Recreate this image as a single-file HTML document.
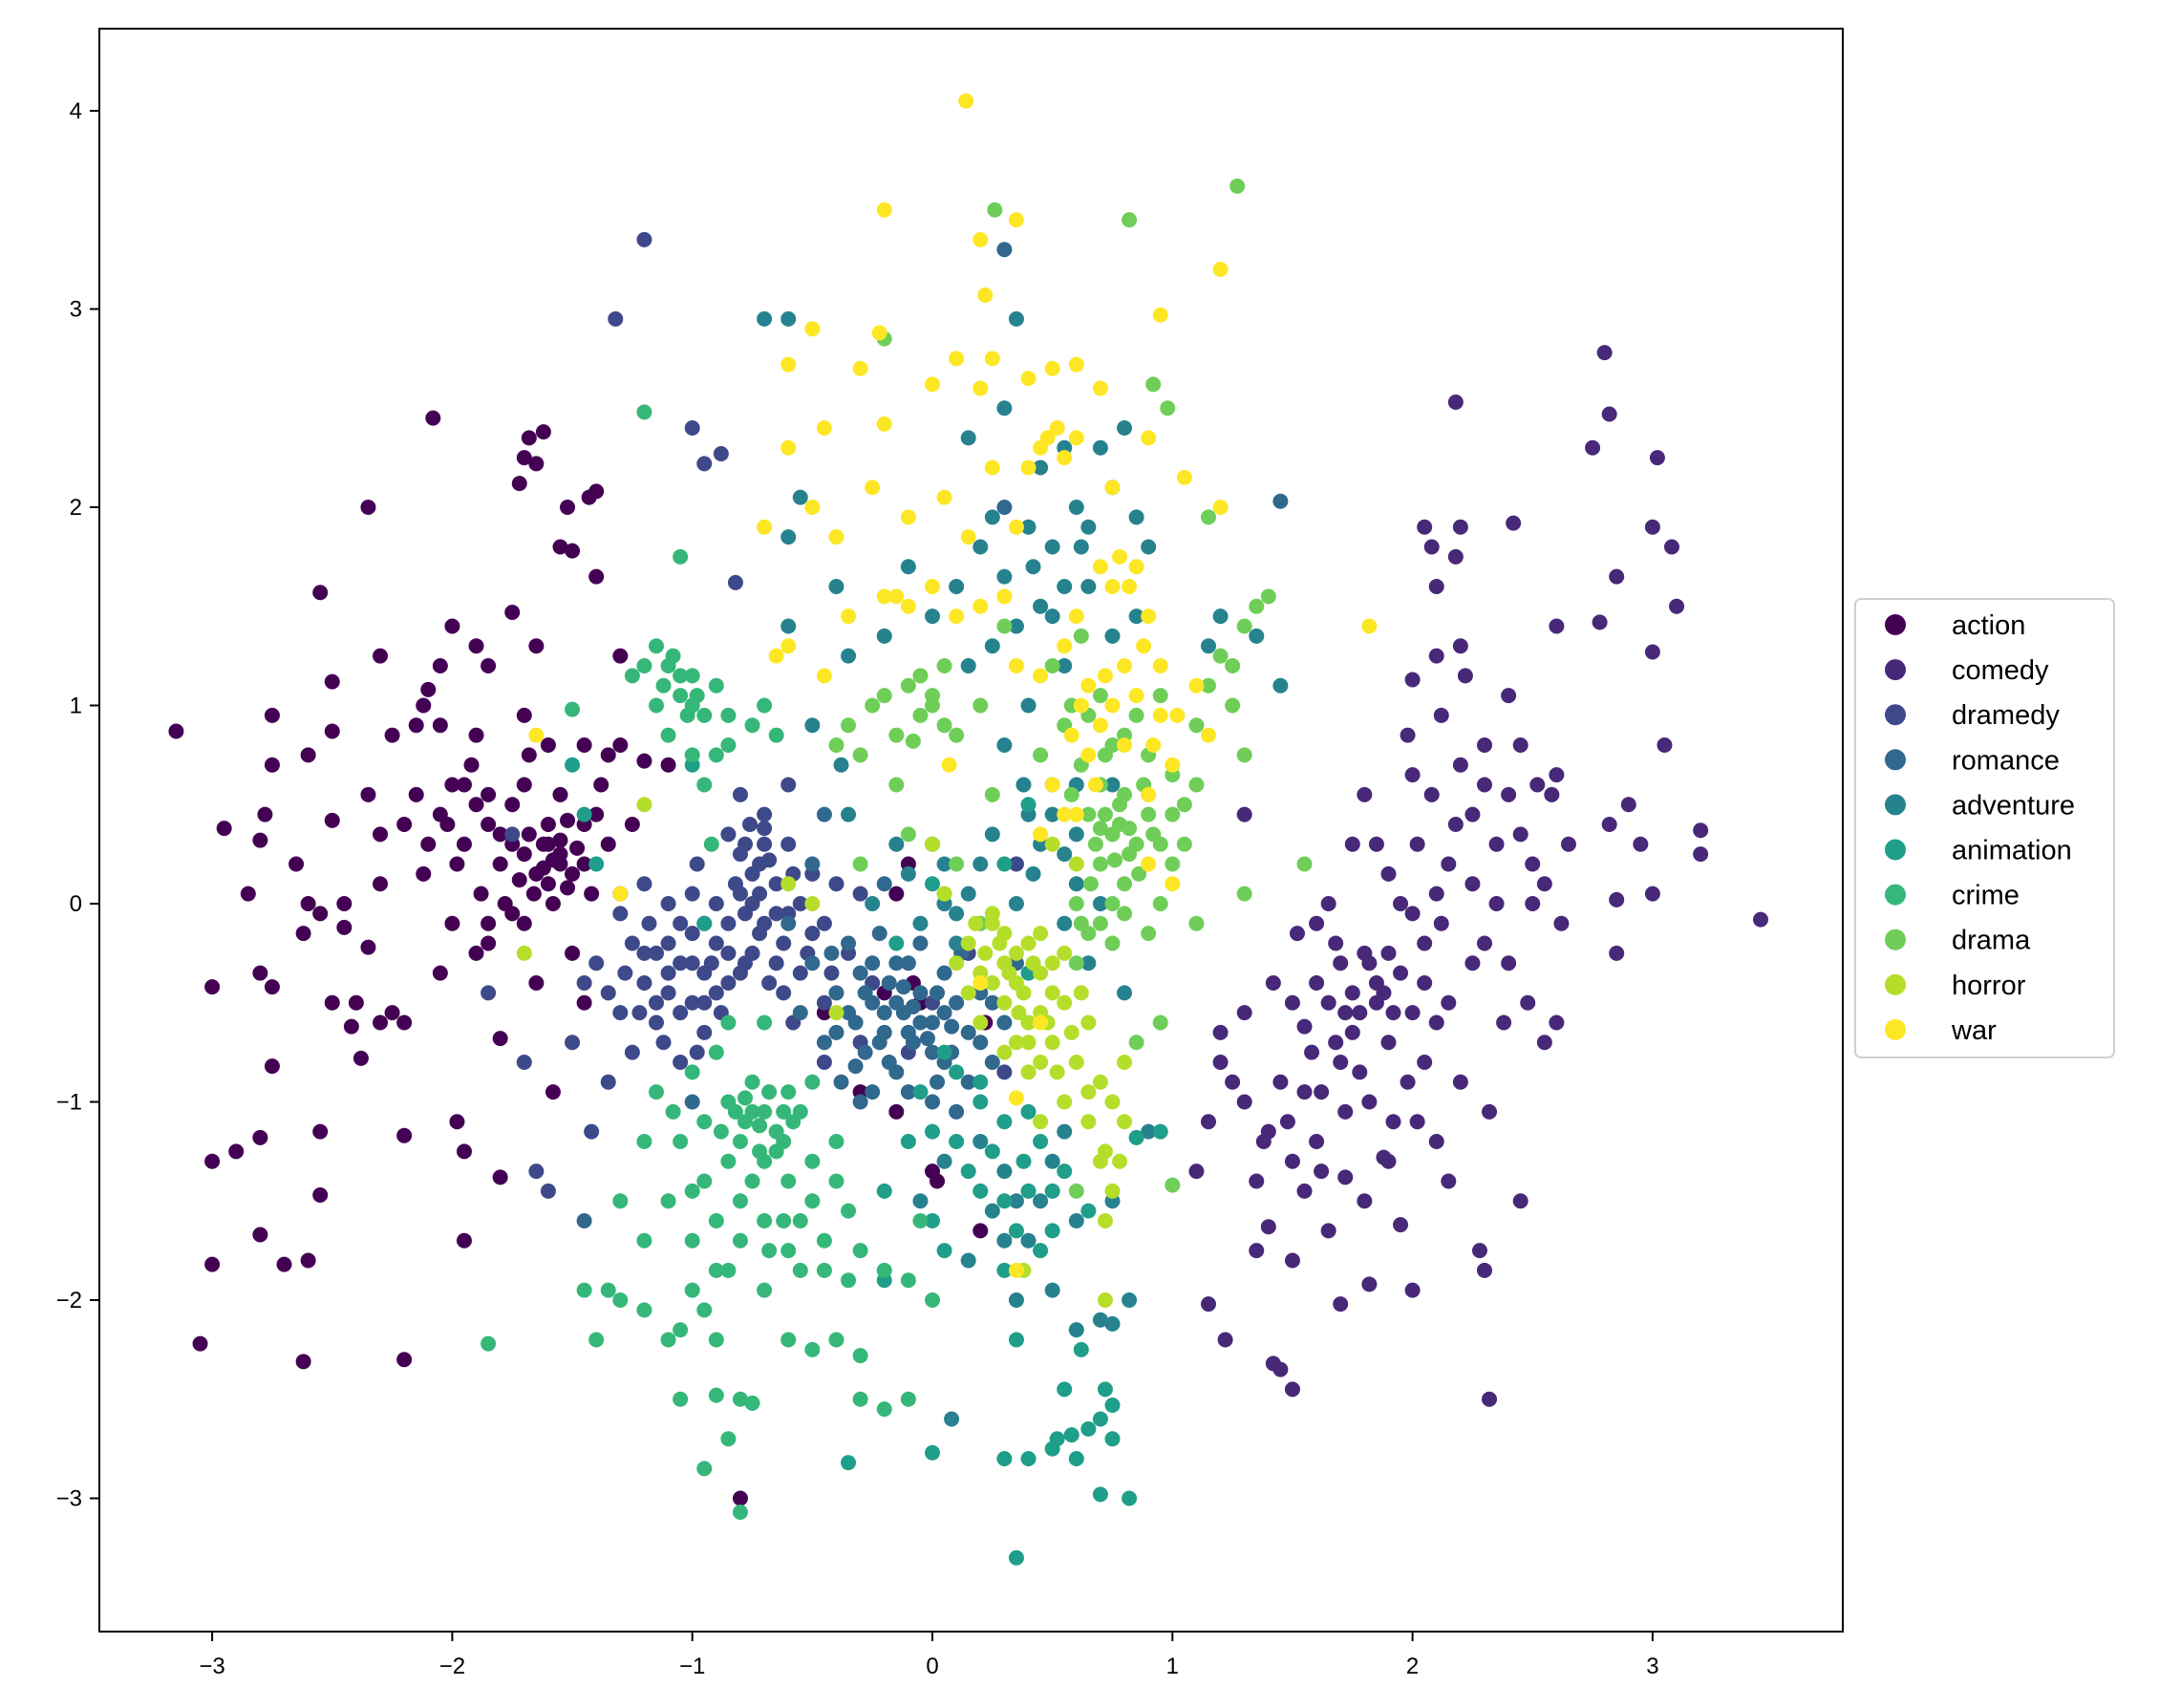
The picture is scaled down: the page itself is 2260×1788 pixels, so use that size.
<!DOCTYPE html>
<html><head><meta charset="utf-8"><style>
html,body{margin:0;padding:0;background:#fff;}
svg{display:block;font-family:"Liberation Sans","DejaVu Sans",sans-serif;}
</style></head><body>
<svg id="chart" width="2260" height="1788" viewBox="0 0 2260 1788" xmlns="http://www.w3.org/2000/svg">
<rect width="2260" height="1788" fill="#fff"/>
<g id="points"></g>
<rect x="104" y="30" width="1825" height="1678" fill="none" stroke="#000" stroke-width="2"/>
<g id="xticks"></g>
<g id="yticks"></g>
<g id="legend"></g>
</svg>
<script>
const genres=["action","comedy","dramedy","romance","adventure","animation","crime","drama","horror","war"];
const colors=["#440154","#482878","#3e4989","#31688e","#26828e","#1f9e89","#35b779","#6ece58","#b5de2b","#fde725"];
const xTicks=[-3,-2,-1,0,1,2,3];
const yTicks=[-3,-2,-1,0,1,2,3,4];
const actionPts=[[-3.15,0.87],[-3.0,-0.42],[-2.95,0.38],[-2.8,-0.35],[-3.05,-2.22],[-3.0,-1.82],[-3.0,-1.3],[-2.9,-1.25],[-2.8,-1.18],[-2.8,-1.67],[-2.7,-1.82],[-2.62,-2.31],[-2.6,-1.8],[-2.55,-1.47],[-2.55,-1.15],[-2.75,-0.82],[-2.75,-0.42],[-2.85,0.05],[-2.8,0.32],[-2.78,0.45],[-2.75,0.7],[-2.75,0.95],[-2.65,0.2],[-2.6,0.75],[-2.55,1.57],[-2.5,1.12],[-2.5,0.87],[-2.5,0.42],[-2.45,0.0],[-2.45,-0.12],[-2.5,-0.5],[-2.42,-0.62],[-2.38,-0.78],[-2.35,-0.22],[-2.35,0.55],[-2.35,2.0],[-2.3,1.25],[-2.3,0.35],[-2.25,-0.55],[-2.2,-0.6],[-2.2,0.4],[-2.2,-1.17],[-2.2,-2.3],[-2.15,0.9],[-2.12,0.15],[-2.1,1.08],[-2.08,2.45],[-2.05,0.45],[-2.0,-0.1],[-2.0,0.6],[-2.0,1.4],[-1.98,-1.1],[-1.95,0.3],[-1.95,-1.7],[-1.95,-1.25],[-1.9,0.85],[-1.9,-0.25],[-1.88,0.05],[-1.85,1.2],[-1.85,0.55],[-1.8,0.2],[-1.8,-0.68],[-1.75,0.5],[-1.75,1.47],[-1.72,2.12],[-1.7,2.25],[-1.68,2.35],[-1.65,2.22],[-1.62,2.38],[-1.65,1.3],[-1.7,-0.1],[-1.68,0.75],[-1.65,-0.4],[-1.6,0.3],[-1.58,0.0],[-1.55,0.25],[-1.55,0.2],[-1.5,0.15],[-1.52,0.42],[-1.5,1.78],[-1.55,1.8],[-1.52,2.0],[-1.45,0.8],[-1.45,-0.5],[-1.43,2.05],[-1.4,2.08],[-1.4,1.65],[-1.38,0.6],[-1.35,0.3],[-1.3,1.25],[-1.3,0.05],[-1.58,-0.95],[-1.8,-1.38],[-1.75,0.3],[-1.7,0.25],[-1.62,0.3],[-1.6,0.1],[-1.45,0.4],[-1.5,-0.25],[-2.05,-0.35],[-2.25,0.85],[-0.8,-3.0],[-0.2,-0.45],[-0.08,-0.4],[-0.05,-0.5],[-0.3,-0.95],[-0.15,-1.05],[0.0,-1.35],[0.02,-1.4],[0.2,-1.65],[0.22,-0.6],[-0.1,0.2],[-0.15,0.05],[-0.45,-0.55],[-1.2,0.72],[-1.1,0.7],[-1.85,0.4],[-1.78,0.0],[-1.92,0.7],[-1.65,0.15],[-2.1,0.3],
[-1.58,0.22],[-1.62,0.18],[-1.55,0.32],[-1.48,0.28],[-1.68,0.35],[-1.72,0.12],[-1.6,0.4],[-1.52,0.08],[-1.66,0.05],[-1.45,0.2],[-1.42,0.05],[-1.4,0.45],[-1.8,0.35],[-1.9,0.5],[-1.95,0.6],[-2.02,0.4],[-1.98,0.2],[-2.15,0.55],[-2.3,0.1],[-2.4,-0.5],[-2.3,-0.6],[-1.85,-0.1],[-1.75,-0.05],[-1.85,-0.2],[-1.7,0.6],[-1.55,0.55],[-1.35,0.75],[-1.3,0.8],[-1.25,0.4],[-1.9,1.3],[-2.05,1.2],[-1.7,0.95],[-1.6,0.8],[-2.6,0.0],[-2.62,-0.15],[-2.55,-0.05],[-2.05,0.9],[-2.12,1.0]];
const comedyPts=[[1.15,-1.1],[1.1,-1.35],[1.15,-2.02],[1.22,-2.2],[1.2,-0.8],[1.25,-0.9],[1.2,-0.65],[1.3,-1.0],[1.3,-0.55],[1.35,-1.4],[1.35,-1.75],[1.38,-1.2],[1.4,-1.63],[1.42,-0.4],[1.42,-2.32],[1.45,-2.35],[1.45,-0.9],[1.48,-1.1],[1.5,-1.8],[1.5,-0.5],[1.5,-2.45],[1.52,-0.15],[1.55,-1.45],[1.55,-0.62],[1.6,-0.4],[1.6,-1.2],[1.62,-0.95],[1.65,0.0],[1.65,-1.65],[1.68,-0.7],[1.7,-0.3],[1.7,-2.02],[1.72,-1.38],[1.72,-0.55],[1.75,-0.65],[1.75,0.3],[1.78,-0.85],[1.8,-0.25],[1.8,0.55],[1.82,-1.0],[1.82,-1.92],[1.85,-0.4],[1.85,-0.5],[1.88,-1.28],[1.9,0.15],[1.9,-0.7],[1.92,-1.1],[1.95,-0.35],[1.95,-1.62],[1.98,0.85],[2.0,-0.55],[2.0,-1.95],[2.0,1.13],[2.02,0.3],[2.05,-0.8],[2.05,-0.4],[2.08,0.55],[2.08,1.8],[2.1,-1.2],[2.1,1.25],[2.12,-0.1],[2.12,0.95],[2.15,-0.5],[2.15,-1.4],[2.18,0.4],[2.18,1.75],[2.18,2.53],[2.2,-0.9],[2.2,0.7],[2.2,1.9],[2.22,1.15],[2.25,-0.3],[2.25,0.1],[2.28,-1.75],[2.3,-1.85],[2.3,0.8],[2.32,-2.5],[2.32,-1.05],[2.35,0.3],[2.38,-0.6],[2.4,0.55],[2.4,1.05],[2.42,1.92],[2.45,-1.5],[2.48,-0.5],[2.5,0.0],[2.5,0.2],[2.52,0.6],[2.55,-0.7],[2.58,0.55],[2.6,1.4],[2.62,-0.1],[2.65,0.3],[2.75,2.3],[2.78,1.42],[2.8,2.78],[2.82,2.47],[2.85,1.65],[2.82,0.4],[2.85,0.02],[2.85,-0.25],[2.9,0.5],[3.0,1.27],[3.0,0.05],[3.02,2.25],[3.05,0.8],[3.08,1.8],[3.1,1.5],[3.0,1.9],[3.2,0.37],[3.2,0.25],[3.45,-0.08],[2.95,0.3],[1.3,0.45],[2.0,-0.05],[1.6,-0.1],[1.9,-0.25],[1.75,-0.45],[2.1,-0.6],[1.95,0.0],[2.3,-0.2],[1.68,-0.2],[2.45,0.8],
[1.82,-0.3],[1.88,-0.45],[1.78,-0.55],[1.92,-0.55],[1.7,-0.8],[1.65,-0.5],[1.58,-0.75],[1.72,-1.05],[1.62,-1.35],[1.8,-1.5],[1.9,-1.3],[2.02,-1.1],[1.98,-0.9],[2.05,-0.2],[2.15,0.2],[2.25,0.45],[2.3,0.6],[2.35,0.0],[2.4,-0.3],[2.55,0.1],[2.6,0.65],[2.1,0.05],[1.85,0.3],[2.0,0.65],[2.2,1.3],[2.1,1.6],[2.05,1.9],[1.5,-1.3],[1.4,-1.15],[1.55,-0.95],[2.45,0.35],[2.6,-0.6]];
const dramedyPts=[[-1.5,-0.7],[-1.45,-0.4],[-1.42,-1.15],[-1.4,-0.3],[-1.35,-0.9],[-1.3,-0.05],[-1.3,-0.55],[-1.25,-0.2],[-1.25,-0.75],[-1.2,-0.4],[-1.2,0.1],[-1.15,-0.6],[-1.15,-0.25],[-1.1,-0.45],[-1.1,0.0],[-1.05,-0.8],[-1.05,-0.3],[-1.0,-0.15],[-1.0,-0.5],[-0.98,0.2],[-0.95,-0.65],[-0.95,-0.35],[-0.9,0.0],[-0.9,-0.2],[-0.88,-0.55],[-0.85,0.35],[-0.85,-0.1],[-0.82,0.1],[-0.8,-0.35],[-0.78,0.3],[-0.75,0.0],[-0.75,-0.25],[-0.72,0.2],[-0.7,-0.1],[-0.7,0.45],[-0.68,-0.4],[-0.65,0.1],[-0.62,-0.2],[-0.6,0.3],[-0.58,-0.6],[-0.55,0.0],[-0.55,-0.35],[-0.5,0.15],[-0.5,-0.15],[-0.45,-0.5],[-0.4,0.1],[-0.35,-0.25],[-0.3,0.05],[-0.25,-0.4],[-0.6,0.6],[-0.8,0.55],[-1.0,2.4],[-0.88,2.27],[-0.95,2.22],[-0.82,1.62],[-1.32,2.95],[-1.2,3.35],[-1.65,-1.35],[-1.6,-1.45],[-1.7,-0.8],[-1.75,0.35],[-1.85,-0.45],[-0.9,-0.45],[-0.78,-0.3],[-0.72,-0.15],[-1.1,-0.2],[-0.3,-0.7],[-0.45,-0.8],[0.0,-0.5],[-0.1,-0.75],[0.15,-0.25],[0.3,-0.85],[0.35,0.2],[-0.8,0.05],[-0.7,0.3],[-1.0,-0.3],[-0.65,-0.05],[-1.18,-0.1],
[-0.75,0.15],[-0.78,-0.05],[-0.72,0.05],[-0.68,0.22],[-0.8,0.25],[-0.85,-0.25],[-0.92,-0.3],[-0.95,-0.1],[-1.05,-0.1],[-1.1,-0.35],[-1.2,-0.25],[-1.28,-0.35],[-1.35,-0.45],[-1.15,-0.5],[-1.05,-0.55],[-0.95,-0.5],[-0.85,-0.4],[-0.65,-0.3],[-0.6,-0.05],[-0.58,0.15],[-0.52,-0.25],[-0.45,-0.1],[-0.42,-0.35],[-0.62,-0.45],[-0.7,0.38],[-0.76,0.4],[-1.0,0.05],[-1.12,-0.7],[-1.22,-0.55],[-0.98,-0.75]];
const romancePts=[[-0.5,-0.3],[-0.45,-0.7],[-0.4,-0.45],[-0.38,-0.9],[-0.35,-0.2],[-0.32,-0.6],[-0.3,-0.35],[-0.28,-0.75],[-0.25,-0.5],[-0.22,-0.15],[-0.2,-0.65],[-0.18,-0.4],[-0.15,-0.85],[-0.12,-0.55],[-0.1,-0.3],[-0.08,-0.7],[-0.05,-0.45],[0.0,-0.6],[0.02,-0.9],[0.05,-0.35],[0.08,-0.75],[0.1,-0.5],[0.12,-0.25],[0.15,-0.65],[0.2,-0.45],[0.25,-0.8],[0.3,-0.6],[-0.55,-0.55],[-0.6,-0.1],[0.0,-1.0],[-0.3,-1.0],[0.1,-1.05],[-0.2,0.1],[0.05,0.0],[0.35,-0.3],[-0.25,-0.3],[-0.15,-0.5],[-0.05,-0.6],[0.05,-0.55],[-0.35,-0.55],[1.45,2.03],[0.3,3.3],[-1.0,-1.0],[-1.45,-1.6],[0.3,2.0],[-0.5,0.2],[-0.45,0.45],[-0.1,-0.65],[-0.2,-0.55],[0.0,-0.75],
[-0.28,-0.45],[-0.22,-0.7],[-0.18,-0.8],[-0.12,-0.42],[-0.08,-0.52],[-0.02,-0.68],[0.02,-0.45],[0.08,-0.62],[-0.32,-0.82],[-0.4,-0.65],[-0.15,-0.3],[-0.05,-0.2],[0.05,-0.8],[0.15,-0.9],[-0.25,-0.95],[-0.1,-0.95],[-0.42,-0.25],[0.2,-0.7],[0.25,-0.5]];
const adventurePts=[[0.35,2.95],[-0.7,2.95],[-0.6,2.95],[0.3,2.5],[0.15,2.35],[0.45,2.2],[0.55,2.3],[0.6,2.0],[0.7,2.3],[0.75,2.1],[0.8,2.4],[0.85,1.95],[0.9,1.8],[0.5,1.8],[0.4,1.9],[0.3,1.65],[0.2,1.8],[0.1,1.6],[0.0,1.45],[-0.1,1.7],[-0.2,1.35],[-0.4,1.6],[-0.6,1.85],[-0.55,2.05],[-0.6,1.4],[-0.35,1.25],[-0.5,0.9],[-0.38,0.7],[0.25,1.3],[0.45,1.5],[0.55,1.2],[0.65,1.6],[0.75,1.35],[0.85,1.45],[0.4,1.0],[0.3,0.8],[0.5,0.6],[0.45,0.3],[0.6,0.1],[0.55,-0.1],[0.4,0.45],[0.35,0.0],[-0.15,0.3],[0.05,0.2],[0.15,0.05],[-0.25,0.0],[0.1,-0.2],[0.25,0.35],[-0.05,-0.1],[0.2,-1.2],[0.3,-1.35],[0.35,-1.5],[0.4,-1.7],[0.45,-1.5],[0.5,-1.3],[0.55,-1.15],[0.3,-1.7],[0.25,-1.55],[0.35,-2.0],[0.5,-1.95],[0.6,-2.15],[0.7,-2.1],[0.75,-2.12],[0.82,-2.0],[0.08,-2.6],[0.15,-1.8],[-0.05,-1.5],[0.05,-1.3],[0.6,-1.6],[0.75,-1.5],[0.9,-1.15],[1.15,1.3],[1.35,1.35],[1.45,1.1],[1.2,1.45],[0.75,0.6],[0.7,0.0],[0.65,-0.3],[0.8,-0.45],[0.5,1.45],[0.65,1.9],[0.35,1.4],[0.6,0.35],
[0.55,0.25],[0.5,0.45],[0.42,0.15],[0.38,0.6],[0.6,0.6],[0.62,1.8],[0.55,1.6],[0.42,1.7],[0.25,1.95],[0.15,1.2],[0.05,0.0],[-0.1,0.15],[0.0,0.3],[0.2,0.2],[0.1,-0.05],[-0.35,0.45]];
const animationPts=[[0.35,-3.3],[0.3,-2.8],[0.4,-2.8],[0.5,-2.75],[0.6,-2.8],[0.65,-2.65],[0.7,-2.6],[0.75,-2.7],[0.75,-2.53],[0.72,-2.45],[0.55,-2.45],[0.7,-2.98],[0.82,-3.0],[0.58,-2.68],[0.52,-2.7],[0.35,-2.2],[0.62,-2.25],[0.0,-2.77],[-0.35,-2.82],[0.3,-1.85],[0.5,-1.65],[0.65,-1.55],[0.55,-1.35],[0.45,-1.2],[0.2,-1.0],[0.1,-1.2],[-0.1,-1.2],[-0.2,-1.45],[0.0,-1.6],[0.05,-1.75],[0.85,-1.18],[0.95,-1.15],[0.05,-0.75],[0.2,-0.9],[-0.95,-0.1],[-1.0,0.7],[-1.4,0.2],[-1.45,0.45],[-1.5,0.7],[0.4,0.5],[0.3,0.2],[-0.2,-1.9],[0.4,-0.35],[-0.15,-0.2],[0.0,0.1],
[0.3,-1.5],[0.4,-1.45],[0.35,-1.65],[0.45,-1.75],[0.25,-1.25],[0.15,-1.35],[0.0,-1.15],[-0.05,-0.95],[0.1,-0.85],[0.3,-1.1],[0.4,-1.05],[0.2,-1.45],[0.5,-1.45],[0.38,-1.3]];
const crimePts=[[-0.8,-3.07],[-0.95,-2.85],[-0.85,-2.7],[-1.05,-2.5],[-0.9,-2.48],[-0.8,-2.5],[-0.75,-2.52],[-0.6,-2.2],[-0.5,-2.25],[-0.3,-2.5],[-0.2,-2.55],[-0.1,-2.5],[-0.3,-2.28],[-0.4,-2.2],[-1.2,-2.05],[-1.3,-2.0],[-1.35,-1.95],[-1.4,-2.2],[-1.45,-1.95],[-1.85,-2.22],[-1.1,-2.2],[-1.05,-2.15],[-1.0,-1.95],[-0.95,-2.05],[-0.9,-2.2],[-1.2,-1.7],[-1.3,-1.5],[-1.1,-1.5],[-1.0,-1.7],[-0.85,-1.85],[-0.7,-1.95],[-0.6,-1.75],[-0.55,-1.85],[-0.45,-1.7],[-0.35,-1.55],[-0.3,-1.75],[-0.2,-1.85],[-0.1,-1.9],[0.0,-2.0],[-0.05,-1.6],[-0.95,-1.4],[-0.8,-1.5],[-0.7,-1.6],[-0.6,-1.4],[-0.5,-1.3],[-0.4,-1.2],[-1.05,-1.2],[-0.95,-1.1],[-0.85,-1.0],[-0.75,-0.9],[-0.7,-1.05],[-0.65,-1.15],[-0.6,-0.95],[-0.55,-1.05],[-0.8,-1.2],[-0.72,-1.25],[-0.5,-0.9],[-1.2,-1.2],[-1.0,-0.85],[-1.15,-0.95],[-0.85,-1.3],[-0.65,-1.25],[-1.2,2.48],[-1.05,1.75],[-1.15,1.3],[-1.2,1.2],[-1.1,1.2],[-1.05,1.05],[-1.0,1.15],[-0.95,0.95],[-0.9,1.1],[-0.85,0.8],[-0.75,0.9],[-0.7,1.0],[-0.65,0.85],[-1.1,0.85],[-1.0,0.75],[-0.95,0.6],[-1.25,1.15],[-0.92,0.3],[-1.5,0.98],[-0.7,-0.6],[-0.9,-0.75],[-0.85,-0.6],[-0.78,-1.1],[-0.62,-1.05],[-0.75,-1.4],[-0.9,-1.6],[-1.0,1.0],
[-0.78,-0.98],[-0.72,-1.12],[-0.68,-0.95],[-0.62,-1.2],[-0.58,-1.1],[-0.82,-1.05],[-0.88,-1.15],[-0.75,-1.05],[-0.7,-1.3],[-0.8,-1.7],[-0.68,-1.75],[-0.55,-1.6],[-0.62,-1.6],[-0.9,-1.85],[-1.0,-1.45],[-1.08,-1.05],[-1.05,1.15],[-1.12,1.1],[-1.08,1.25],[-0.98,1.05],[-1.02,0.95],[-0.9,0.75],[-0.85,0.95],[-1.15,1.0],[-0.5,-1.5],[-0.45,-1.85],[-0.35,-1.9],[-0.4,-1.4]];
const dramaPts=[[1.27,3.62],[0.82,3.45],[0.26,3.5],[0.92,2.62],[0.98,2.5],[-0.2,2.85],[1.15,1.95],[1.4,1.55],[1.35,1.5],[1.3,1.4],[1.2,1.25],[1.25,1.0],[1.3,0.75],[1.1,0.9],[1.05,0.5],[1.0,0.2],[0.95,0.0],[0.9,-0.15],[1.1,-0.1],[1.3,0.05],[0.8,0.55],[0.75,0.35],[0.7,0.6],[0.85,0.3],[0.8,0.1],[0.7,0.2],[0.65,0.45],[0.6,0.0],[0.75,-0.2],[0.65,-0.15],[0.9,0.75],[0.85,0.95],[0.7,1.05],[0.55,0.9],[0.45,0.75],[0.95,1.05],[1.0,0.65],[0.5,1.2],[0.3,1.4],[0.2,1.0],[0.0,1.05],[-0.05,0.95],[-0.1,1.1],[-0.15,0.85],[-0.25,1.0],[-0.35,0.9],[-0.4,0.8],[0.05,1.2],[0.1,0.85],[-0.3,0.75],[-0.15,0.6],[0.25,0.55],[0.2,-0.1],[0.1,0.2],[-0.1,0.35],[0.05,0.05],[-0.3,0.2],[0.6,-1.45],[1.0,-1.42],[0.95,-0.6],[0.85,-0.7],[0.6,-0.3],[1.55,0.2],[0.8,0.85],[0.62,1.35],[0.72,0.75],[0.78,0.4],[0.82,0.25],[0.68,0.3],[0.9,0.45],[0.75,0.0],[0.88,0.6],
[0.72,0.45],[0.78,0.5],[0.82,0.38],[0.7,0.38],[0.76,0.22],[0.86,0.15],[0.92,0.35],[0.66,0.1],[0.62,-0.1],[0.7,-0.1],[0.8,-0.05],[0.95,0.3],[1.05,0.3],[1.0,0.45],[0.58,0.55],[0.62,0.7],[0.0,1.0],[-0.05,1.15],[0.05,0.9],[-0.08,0.82],[-0.2,1.05],[0.75,0.8],[0.65,0.95],[0.58,1.0],[1.15,1.1],[1.25,1.2],[1.1,0.6]];
const horrorPts=[[0.15,-0.2],[0.2,-0.35],[0.25,-0.1],[0.3,-0.5],[0.35,-0.25],[0.4,-0.6],[0.45,-0.35],[0.5,-0.7],[0.3,-0.75],[0.35,-0.4],[0.45,-0.15],[0.4,-0.85],[0.55,-0.5],[0.6,-0.8],[0.5,-0.3],[0.2,-0.6],[0.15,-0.45],[0.65,-0.6],[0.7,-0.9],[0.75,-1.0],[0.72,-1.25],[0.75,-1.45],[0.72,-1.6],[0.7,-1.3],[0.65,-1.1],[0.55,-1.0],[0.45,-1.1],[0.8,-0.8],[0.25,-0.05],[0.35,-0.7],[0.55,-0.25],[0.1,-0.3],[0.05,0.05],[-0.5,0.0],[-0.6,0.1],[-0.4,-0.55],[-1.7,-0.25],[-1.2,0.5],[0.72,-2.0],[0.38,-1.85],[0.0,0.3],[0.5,0.3],[0.6,0.2],[0.4,-0.2],[0.3,-0.3],[0.45,-0.55],[0.5,-0.45],
[0.28,-0.2],[0.32,-0.35],[0.38,-0.45],[0.42,-0.3],[0.48,-0.6],[0.36,-0.55],[0.25,-0.4],[0.22,-0.25],[0.4,-0.7],[0.45,-0.8],[0.52,-0.85],[0.58,-0.65],[0.62,-0.45],[0.3,-0.15],[0.18,-0.1],[0.65,-0.95],[0.8,-1.1],[0.78,-1.3]];
const warPts=[[0.14,4.05],[-0.2,3.5],[0.2,3.35],[0.35,3.45],[1.2,3.2],[0.22,3.07],[0.95,2.97],[-0.22,2.88],[0.0,2.62],[0.1,2.75],[0.25,2.75],[0.4,2.65],[0.6,2.72],[0.5,2.7],[0.7,2.6],[-0.5,2.9],[-0.6,2.72],[-0.3,2.7],[-0.2,2.42],[-0.45,2.4],[-0.6,2.3],[-0.7,1.9],[-0.5,2.0],[-0.4,1.85],[-0.25,2.1],[-0.1,1.95],[0.05,2.05],[0.15,1.85],[0.35,1.9],[0.45,2.3],[0.55,2.25],[0.75,2.1],[0.9,2.35],[1.05,2.15],[1.2,2.0],[0.85,1.7],[0.75,1.6],[0.7,1.7],[0.9,1.45],[0.6,1.45],[0.55,1.3],[0.45,1.15],[0.65,1.1],[0.75,1.0],[0.8,0.8],[0.95,0.95],[1.1,1.1],[1.15,0.85],[1.0,0.7],[0.9,0.55],[0.65,0.75],[0.5,0.6],[0.45,0.35],[0.6,0.45],[0.9,0.2],[1.0,0.1],[0.0,1.6],[-0.2,1.55],[-0.35,1.45],[-0.6,1.3],[-0.65,1.25],[-0.45,1.15],[-0.1,1.5],[0.1,1.45],[0.3,1.55],[0.35,1.2],[1.82,1.4],[-1.3,0.05],[0.07,0.7],[0.35,-0.98],[0.35,-1.85],[-1.65,0.85],[0.45,-0.6],[0.2,-0.4],[0.85,1.05],[0.7,0.9],
[0.62,1.0],[0.58,0.85],[0.72,1.15],[0.8,1.2],[0.88,1.3],[0.95,1.2],[1.02,0.95],[0.92,0.8],[0.68,0.6],[0.55,0.45],[0.82,1.6],[0.78,1.75],[0.48,2.35],[0.52,2.4],[0.4,2.2],[0.2,2.6],[-0.15,1.55],[0.2,1.5],[0.25,2.2],[0.6,2.35]];
const series=[actionPts,comedyPts,dramedyPts,romancePts,adventurePts,animationPts,crimePts,dramaPts,horrorPts,warPts];

const NS="http://www.w3.org/2000/svg";
const X0=976,XU=251.3,Y0=946,YU=207.5;
function sx(v){return X0+XU*v;}
function sy(v){return Y0-YU*v;}
function mk(tag,attrs,parent){const e=document.createElementNS(NS,tag);for(const k in attrs)e.setAttribute(k,attrs[k]);parent.appendChild(e);return e;}
function fmt(v){return v<0?"\u2212"+Math.abs(v):String(v);}

const pg=document.getElementById("points");
series.forEach((pts,gi)=>{
  const g=mk("g",{},pg);
  
  
  pts.forEach(p=>{
    const c=mk("circle",{cx:sx(p[0]),cy:sy(p[1]),r:8,fill:colors[gi]},g);
    
    
  });
});

const xg=document.getElementById("xticks");
xTicks.forEach(t=>{
  const l=mk("line",{x1:sx(t),x2:sx(t),y1:1708,y2:1718,stroke:"#000","stroke-width":2},xg);
  
  
  const tx=mk("text",{x:sx(t),y:1752,"text-anchor":"middle","font-size":24,fill:"#000"},xg);
  tx.textContent=fmt(t);
  
  
});
const yg=document.getElementById("yticks");
yTicks.forEach(t=>{
  const l=mk("line",{x1:94,x2:104,y1:sy(t),y2:sy(t),stroke:"#000","stroke-width":2},yg);
  
  
  const tx=mk("text",{x:86,y:sy(t)+8,"text-anchor":"end","font-size":24,fill:"#000"},yg);
  tx.textContent=fmt(t);
  
  
});

const lg=document.getElementById("legend");
const box=mk("rect",{x:1942,y:627,width:271,height:480,rx:6,fill:"#fff",stroke:"#d0d0d0","stroke-width":2},lg);


genres.forEach((name,i)=>{
  const y=654+47.1*i;
  const g=mk("g",{},lg);
  
  
  mk("circle",{cx:1984,cy:y,r:11,fill:colors[i]},g);
  const t=mk("text",{x:2043,y:y+10,"font-size":29,fill:"#000"},g);
  t.textContent=name;
});
</script>
</body></html>
